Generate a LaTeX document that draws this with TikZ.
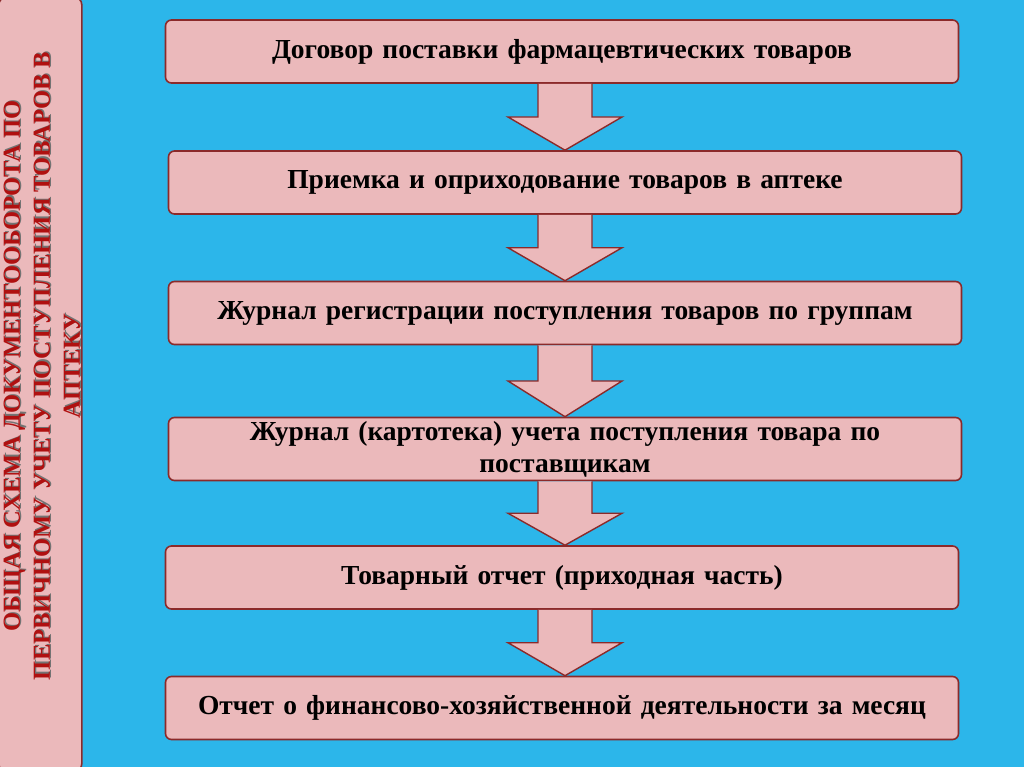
\documentclass[tikz,border=0pt]{standalone}
\usepackage{fontspec}
\setmainfont{Liberation Serif}
\usetikzlibrary{calc}
\definecolor{bg}{HTML}{2CB6EA}
\definecolor{boxfill}{HTML}{EBB9BB}
\definecolor{boxline}{HTML}{8B2A2A}
\definecolor{titlered}{HTML}{B01010}
\begin{document}
\begin{tikzpicture}[x=1pt,y=-1pt,
  stepbox/.style={draw=boxline,line width=1.6pt,fill=boxfill,rounded corners=6pt,minimum width=793pt,minimum height=63pt,align=center,font=\bfseries\fontsize{27.5}{32}\selectfont,text width=780pt,inner sep=1pt},
  blockarrow/.style={draw=boxline,line width=1.4pt,fill=boxfill,line join=miter}]
\useasboundingbox (0,0) rectangle (1024,767);
\fill[bg] (0,0) rectangle (1024,767);
\node[draw=boxline,line width=1.6pt,fill=boxfill,rounded corners=8pt,minimum width=83pt,minimum height=775pt,anchor=north west] (side) at (-2,-4) {};
\node[rotate=90,align=center,font=\bfseries\fontsize{24.5}{30}\selectfont,text=black!55,xshift=1.2pt,yshift=-1.2pt] at (42,366) {ОБЩАЯ СХЕМА ДОКУМЕНТООБОРОТА ПО\\ПЕРВИЧНОМУ УЧЕТУ ПОСТУПЛЕНИЯ ТОВАРОВ В\\АПТЕКУ};
\node[rotate=90,align=center,font=\bfseries\fontsize{24.5}{30}\selectfont,text=titlered] (title) at (42,366) {ОБЩАЯ СХЕМА ДОКУМЕНТООБОРОТА ПО\\ПЕРВИЧНОМУ УЧЕТУ ПОСТУПЛЕНИЯ ТОВАРОВ В\\АПТЕКУ};
\node[stepbox] (b1) at (562,51.5) {Договор поставки фармацевтических товаров};
\node[stepbox] (b2) at (565,182.5) {Приемка и оприходование товаров в аптеке};
\node[stepbox] (b3) at (565,313) {Журнал регистрации поступления товаров по группам};
\node[stepbox,text width=700pt] (b4) at (565,449) {Журнал (картотека) учета поступления товара по\\поставщикам};
\node[stepbox] (b5) at (562,577.5) {Товарный отчет (приходная часть)};
\node[stepbox] (b6) at (562,708) {Отчет о финансово-хозяйственной деятельности за месяц};
\foreach \a/\b in {b1/b2,b2/b3,b3/b4,b4/b5,b5/b6}{
  \draw[blockarrow] let \p1=(\a.south), \p2=(\b.north), \n1={(\y1+\y2)/2} in
    (538,\y1) -- (538,\n1) -- (508,\n1) -- (565,\y2) -- (622,\n1) -- (592,\n1) -- (592,\y1);
}
\end{tikzpicture}
\end{document}
